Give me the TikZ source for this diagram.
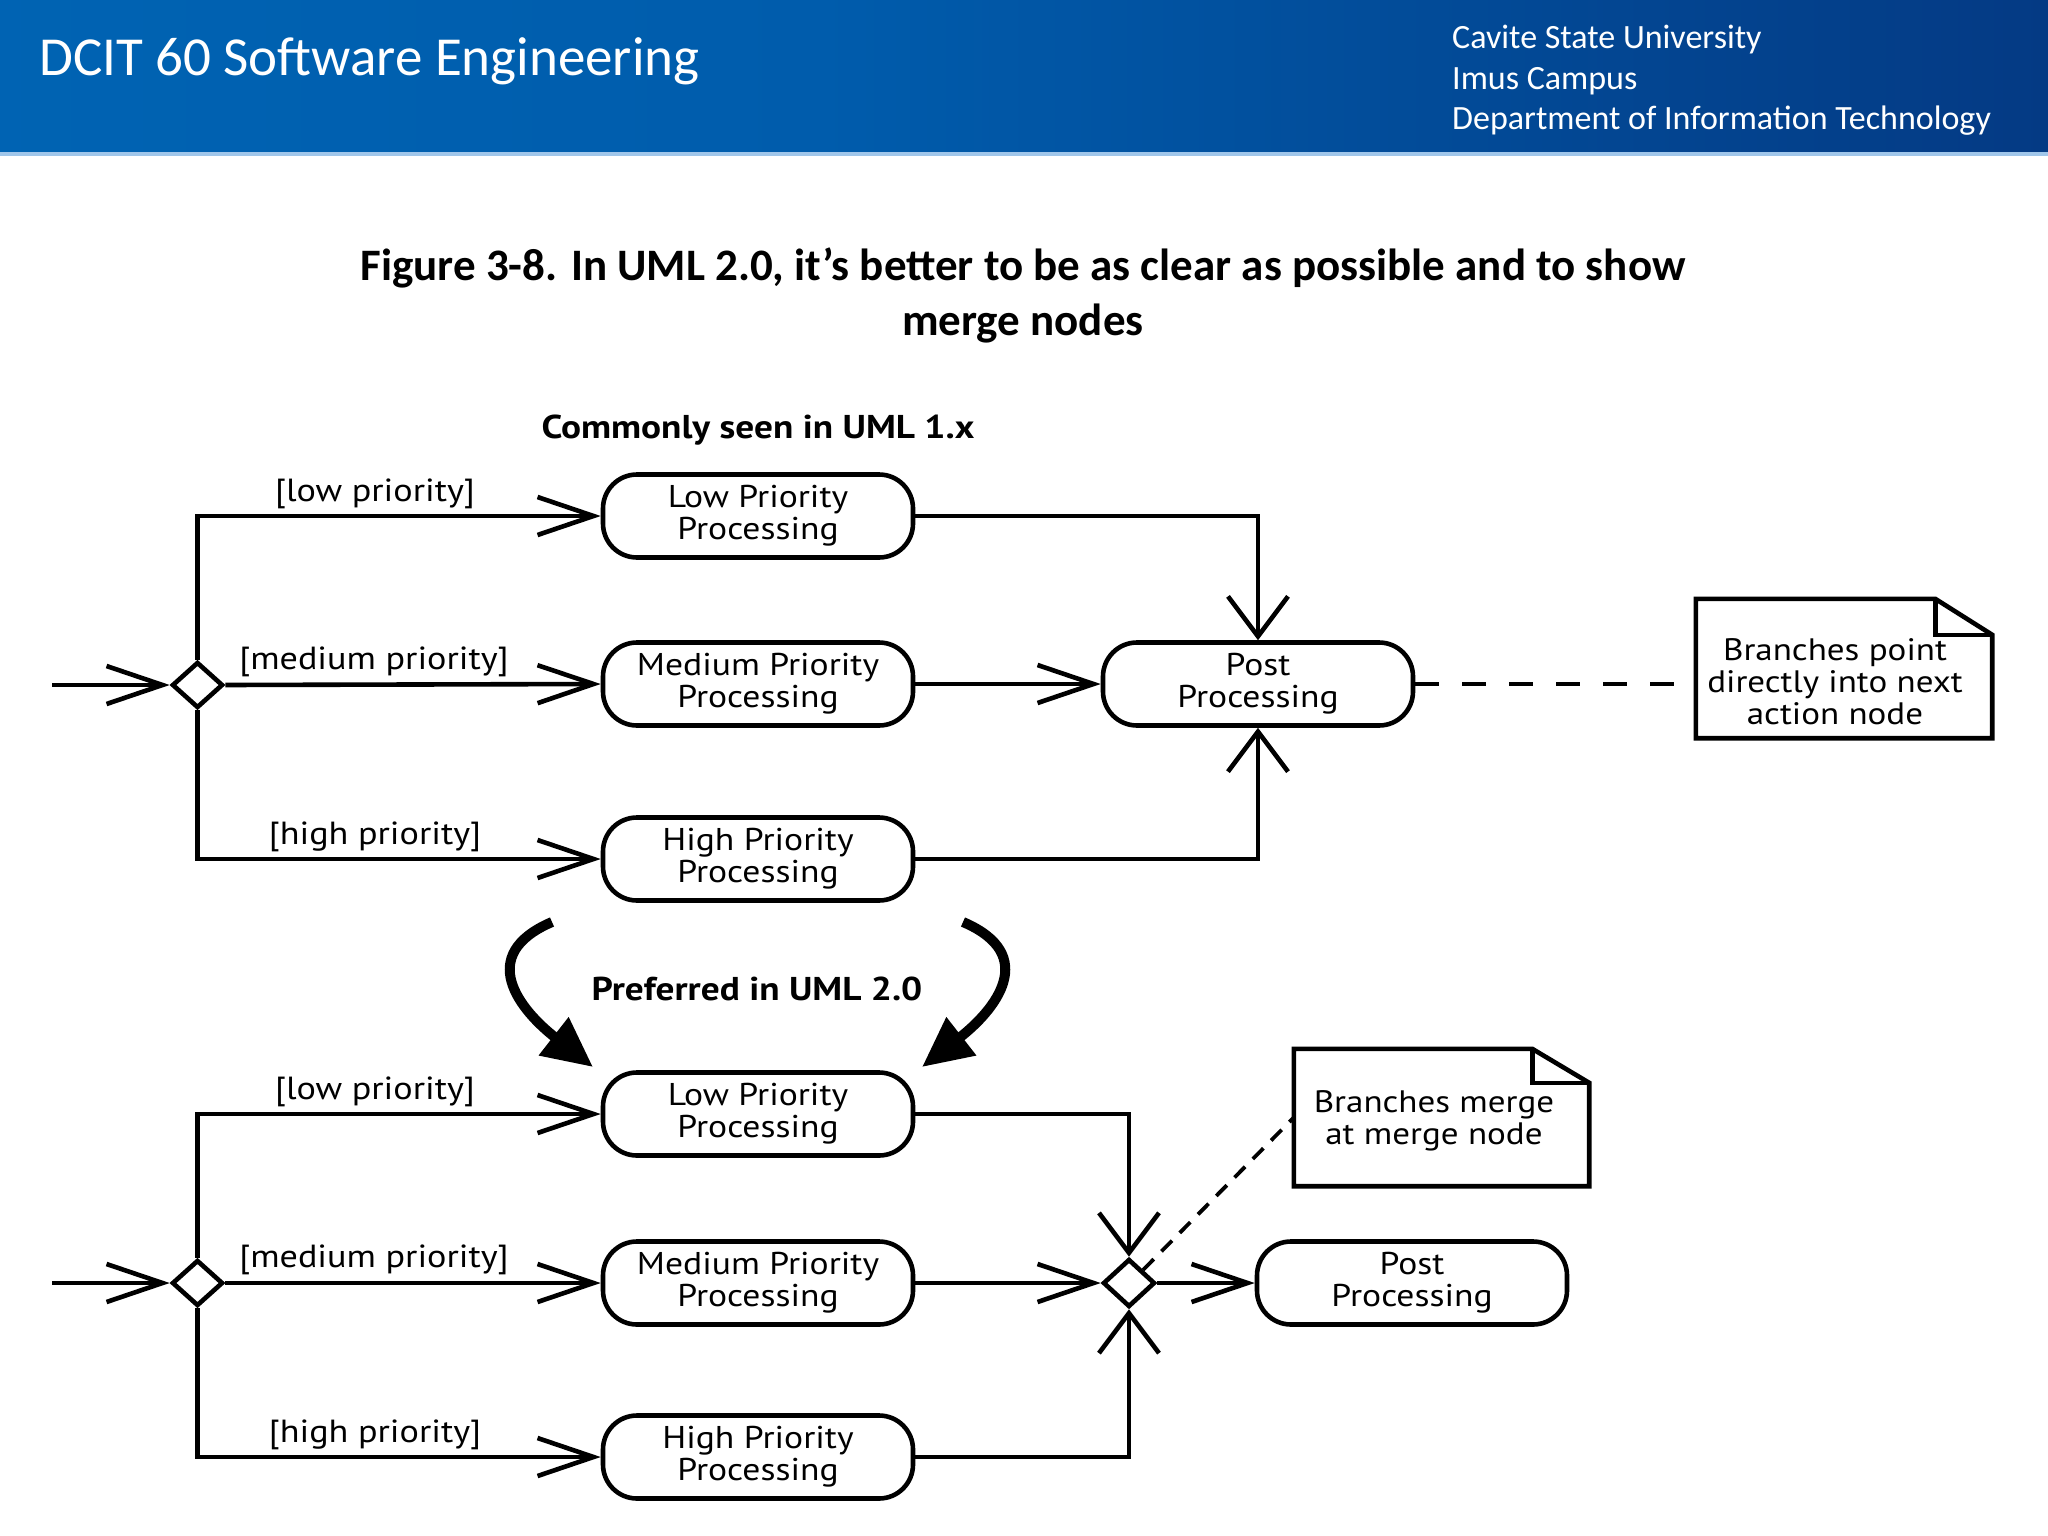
\documentclass[tikz,border=0pt]{standalone}
\usepackage{fontspec}
\setmainfont{Carlito}
\newfontfamily\dfont[FakeStretch=1.13]{PT Sans}
\usetikzlibrary{arrows.meta,shapes.geometric,calc}
\definecolor{hdrA}{RGB}{0,108,187}
\definecolor{hdrB}{RGB}{0,92,172}
\definecolor{hdrC}{RGB}{4,58,132}
\definecolor{hdrD}{RGB}{10,30,92}
\definecolor{hdrline}{RGB}{160,198,234}
\pgfdeclarehorizontalshading{hdrshade}{100bp}{color(0bp)=(hdrA); color(45bp)=(hdrB); color(75bp)=(hdrC); color(100bp)=(hdrD)}
\tikzset{
  act/.style={draw, line width=4.6pt, rounded corners=34pt, minimum width=310pt, minimum height=83pt,
    align=center, inner sep=0pt, font=\dfont\fontsize{31.5}{32}\selectfont},
  dec/.style={draw, diamond, line width=4.6pt, minimum width=51pt, minimum height=46pt, inner sep=0pt},
  flow/.style={line width=4.6pt},
  harr/.style={flow, -{Straight Barb[length=56pt,width=38pt]}},
  varr/.style={flow, -{Straight Barb[length=40pt,width=60pt]}},
  guard/.style={anchor=base, inner sep=0pt, font=\dfont\fontsize{32}{32}\selectfont},
  headtxt/.style={anchor=base, inner sep=0pt, font=\dfont\bfseries\fontsize{33}{33}\selectfont},
  notebox/.style={minimum width=296pt, minimum height=139pt, inner sep=0pt},
  notetxt/.style={align=center, inner sep=0pt, font=\dfont\fontsize{31}{32}\selectfont},
  noteline/.style={line width=4.6pt, line join=miter},
  hdrtxt/.style={anchor=base west, inner sep=0pt, text=white},
  bigarr/.style={line width=10pt, -{Triangle[length=50pt,width=46pt]}}
}
\begin{document}
\begin{tikzpicture}[x=1pt,y=-1pt]
\useasboundingbox (0,0) rectangle (2048,1536);
\fill[white] (0,0) rectangle (2048,1536);
% header
\shade[shading=hdrshade] (0,0) rectangle (2048,153);
\fill[hdrline] (0,152) rectangle (2048,156);
\node[hdrtxt, font=\fontsize{55}{60}\selectfont] (ttl) at (39,76) {DCIT 60 Software Engineering};
\node[hdrtxt, font=\fontsize{34}{40}\selectfont] (u1) at (1452,49) {Cavite State University};
\node[hdrtxt, font=\fontsize{34}{40}\selectfont] (u2) at (1452,89.5) {Imus Campus};
\node[hdrtxt, font=\fontsize{34}{40}\selectfont] (u3) at (1452,130) {Department of Information Technology};
% figure title
\node[anchor=base, inner sep=0pt, font=\bfseries\fontsize{45}{50}\selectfont] (ft1) at (1023,280) {Figure 3-8. In UML 2.0, it{\char"27}s better to be as clear as possible and to show};
\node[anchor=base, inner sep=0pt, font=\bfseries\fontsize{45}{50}\selectfont] (ft2) at (1023,335) {merge nodes};

% ---------- top diagram ----------
\node[headtxt] (h1) at (758,438) {Commonly seen in UML 1.x};
\coordinate (in1) at (52,685);
\node[dec] (d1) at (197.5,685) {};
\node[act] (lp1) at (758,516) {Low Priority\\Processing};
\node[act] (mp1) at (758,684) {Medium Priority\\Processing};
\node[act] (hp1) at (758,859) {High Priority\\Processing};
\node[act] (post1) at (1258,684) {Post\\Processing};
\node[notebox] (note1) at (1844,668.5) {};
\node[notetxt] (note1t) at (1835,682) {Branches point\\directly into next\\action node};
\draw[noteline] (note1.north west) -- ([xshift=-57pt]note1.north east) -- ([yshift=-36pt]note1.north east) -- (note1.south east) -- (note1.south west) -- cycle;
\draw[noteline] ([xshift=-57pt]note1.north east) |- ([yshift=-36pt]note1.north east);

\draw[harr] (in1) -- (d1.west);
\draw[harr] (d1.north) |- (lp1.west);
\draw[harr] (d1.east) -- (mp1.west);
\draw[harr] (d1.south) |- (hp1.west);
\draw[varr] (lp1.east) -| (post1.north);
\draw[harr] (mp1.east) -- (post1.west);
\draw[varr] (hp1.east) -| (post1.south);
\draw[flow, dash pattern=on 24pt off 23pt] (post1.east) -- (post1.east -| note1.west);

\node[guard] (g1) at (375,501) {[low priority]};
\node[guard] (g2) at (374,669) {[medium priority]};
\node[guard] (g3) at (375,844) {[high priority]};

% ---------- curved arrows ----------
\node[headtxt] (h2) at (757,1000) {Preferred in UML 2.0};
\coordinate (ca1) at (552,922);
\coordinate (ca2) at (593,1067);
\coordinate (cb1) at (963,922);
\coordinate (cb2) at (922,1067);
\draw[bigarr] (ca1) .. controls (475,955) and (520,1010) .. (ca2);
\draw[bigarr] (cb1) .. controls (1040,955) and (995,1010) .. (cb2);

% ---------- bottom diagram ----------
\coordinate (in2) at (52,1283);
\node[dec] (d2) at (197.5,1283) {};
\node[act] (lp2) at (758,1114) {Low Priority\\Processing};
\node[act] (mp2) at (758,1283) {Medium Priority\\Processing};
\node[act] (hp2) at (758,1457) {High Priority\\Processing};
\node[dec, minimum width=52pt, minimum height=48pt] (m2) at (1129,1283) {};
\node[act] (post2) at (1412,1283) {Post\\Processing};
\node[notebox, minimum width=295pt, minimum height=137pt] (note2) at (1441.5,1117.5) {};
\node[notetxt] (note2t) at (1434,1121) {Branches merge\\at merge node};
\draw[noteline] (note2.north west) -- ([xshift=-57pt]note2.north east) -- ([yshift=-34pt]note2.north east) -- (note2.south east) -- (note2.south west) -- cycle;
\draw[noteline] ([xshift=-57pt]note2.north east) |- ([yshift=-34pt]note2.north east);

\draw[harr] (in2) -- (d2.west);
\draw[harr] (d2.north) |- (lp2.west);
\draw[harr] (d2.east) -- (mp2.west);
\draw[harr] (d2.south) |- (hp2.west);
\draw[varr] (lp2.east) -| (m2.north);
\draw[harr] (mp2.east) -- (m2.west);
\draw[varr] (hp2.east) -| (m2.south);
\draw[harr] (m2.east) -- (post2.west);
\draw[line width=3.8pt, dash pattern=on 15pt off 11pt] (m2.north east) -- (note2.west);

\node[guard] (g4) at (375,1099) {[low priority]};
\node[guard] (g5) at (374,1267) {[medium priority]};
\node[guard] (g6) at (375,1442) {[high priority]};
\end{tikzpicture}
\end{document}
